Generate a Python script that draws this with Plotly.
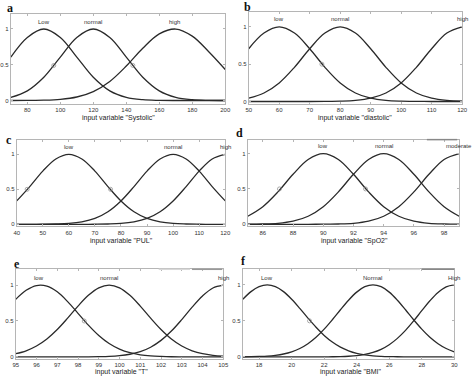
import plotly.graph_objects as go

W, H = 474, 379

# ---------------- data ----------------
a_x = [70, 80, 90, 100, 110, 120, 130, 140, 150, 160, 170, 180, 190, 200]
a_low = [0.607, 0.882, 1.0, 0.882, 0.607, 0.325, 0.135, 0.044, 0.011, 0.002, 0.0, 0.0, 0.0, 0.0]
a_normal = [0.044, 0.135, 0.325, 0.607, 0.882, 1.0, 0.882, 0.607, 0.325, 0.135, 0.044, 0.011, 0.002, 0.0]
a_high = [0.0, 0.001, 0.004, 0.016, 0.049, 0.125, 0.267, 0.482, 0.731, 0.932, 0.999, 0.900, 0.682, 0.434]
a_names = ["Low", "normal", "high"]
a_peaks = [90, 120, 169]
a_ticks = [80, 100, 120, 140, 160, 180, 200]
a_mark_x = [96, 144]
a_mark_y = [0.49, 0.49]

b_x = [50, 55, 60, 65, 70, 75, 80, 85, 90, 95, 100, 105, 110, 115, 120]
b_low = [0.707, 0.917, 1.0, 0.917, 0.707, 0.458, 0.249, 0.114, 0.044, 0.014, 0.004, 0.001, 0.0, 0.0, 0.0]
b_normal = [0.044, 0.114, 0.249, 0.458, 0.707, 0.917, 1.0, 0.917, 0.707, 0.458, 0.249, 0.114, 0.044, 0.014, 0.004]
b_high = [0.0, 0.0, 0.0, 0.0, 0.0, 0.001, 0.004, 0.014, 0.044, 0.114, 0.249, 0.458, 0.707, 0.917, 1.0]
b_names = ["low", "normal", "high"]
b_peaks = [60, 80, 120]
b_ticks = [50, 60, 70, 80, 90, 100, 110, 120]
b_mark_x = [74]
b_mark_y = [0.5]

c_x = [40, 45, 50, 55, 60, 65, 70, 75, 80, 85, 90, 95, 100, 105, 110, 115, 120]
c_low = [0.334, 0.539, 0.760, 0.934, 1.0, 0.934, 0.760, 0.539, 0.334, 0.180, 0.085, 0.035, 0.012, 0.004, 0.001, 0.0, 0.0]
c_normal = [0.0, 0.0, 0.001, 0.004, 0.012, 0.035, 0.085, 0.180, 0.334, 0.539, 0.760, 0.934, 1.0, 0.934, 0.760, 0.539, 0.334]
c_high = [0.0, 0.0, 0.0, 0.0, 0.0, 0.0, 0.001, 0.004, 0.012, 0.035, 0.085, 0.180, 0.334, 0.539, 0.760, 0.934, 1.0]
c_names = ["low", "normal", "high"]
c_peaks = [60, 100, 120]
c_ticks = [40, 50, 60, 70, 80, 90, 100, 110, 120]
c_mark_x = [44, 76]
c_mark_y = [0.5, 0.5]

d_x = [85, 86, 87, 88, 89, 90, 91, 92, 93, 94, 95, 96, 97, 98, 99]
d_low = [0.114, 0.249, 0.458, 0.707, 0.917, 1.0, 0.917, 0.707, 0.458, 0.249, 0.114, 0.044, 0.014, 0.004, 0.001]
d_normal = [0.001, 0.004, 0.014, 0.044, 0.114, 0.249, 0.458, 0.707, 0.917, 1.0, 0.917, 0.707, 0.458, 0.249, 0.114]
d_moderate = [0.0, 0.0, 0.0, 0.0, 0.0, 0.001, 0.004, 0.014, 0.044, 0.114, 0.249, 0.458, 0.707, 0.917, 1.0]
d_names = ["low", "normal", "moderate"]
d_peaks = [90, 94, 99]
d_ticks = [86, 88, 90, 92, 94, 96, 98]
d_mark_x = [87.1, 92.8]
d_mark_y = [0.5, 0.5]

e_x = [95, 95.5, 96, 96.5, 97, 97.5, 98, 98.5, 99, 99.5, 100, 100.5, 101, 101.5, 102, 102.5,
       103, 103.5, 104, 104.5, 105]
e_low = [0.801, 0.927, 0.994, 0.986, 0.906, 0.770, 0.607, 0.442, 0.298, 0.186, 0.108, 0.058,
         0.029, 0.013, 0.006, 0.002, 0.001, 0.0, 0.0, 0.0, 0.0]
e_normal = [0.044, 0.085, 0.151, 0.249, 0.381, 0.539, 0.707, 0.857, 0.962, 1.0, 0.962, 0.857,
            0.707, 0.539, 0.381, 0.249, 0.151, 0.085, 0.044, 0.021, 0.009]
e_high = [0.0, 0.0, 0.0, 0.0, 0.0, 0.0, 0.0, 0.001, 0.003, 0.007, 0.017, 0.037, 0.073, 0.135,
          0.230, 0.360, 0.520, 0.693, 0.849, 0.960, 1.0]
e_names = ["low", "normal", "high"]
e_peaks = [96.1, 99.5, 105]
e_ticks = [95, 96, 97, 98, 99, 100, 101, 102, 103, 104, 105]
e_mark_x = [98.3]
e_mark_y = [0.5]

f_x = [17, 17.5, 18, 18.5, 19, 19.5, 20, 20.5, 21, 21.5, 22, 22.5, 23, 23.5, 24, 24.5, 25,
       25.5, 26, 26.5, 27, 27.5, 28, 28.5, 29, 29.5, 30]
f_low = [0.801, 0.906, 0.976, 1.0, 0.976, 0.906, 0.801, 0.674, 0.539, 0.411, 0.298, 0.206, 0.135,
         0.085, 0.050, 0.029, 0.015, 0.008, 0.004, 0.002, 0.001, 0.0, 0.0, 0.0, 0.0, 0.0, 0.0]
f_normal = [0.001, 0.003, 0.006, 0.011, 0.022, 0.040, 0.070, 0.116, 0.183, 0.272, 0.385, 0.515,
            0.654, 0.787, 0.899, 0.974, 1.0, 0.974, 0.899, 0.787, 0.654, 0.515, 0.385, 0.272,
            0.183, 0.116, 0.070]
f_high = [0.0, 0.0, 0.0, 0.0, 0.0, 0.0, 0.0, 0.0, 0.0, 0.0, 0.001, 0.002, 0.004, 0.009, 0.018,
          0.035, 0.062, 0.105, 0.169, 0.257, 0.368, 0.499, 0.641, 0.779, 0.895, 0.973, 1.0]
f_names = ["Low", "Normal", "High"]
f_peaks = [18.5, 25, 30]
f_ticks = [18, 20, 22, 24, 26, 28, 30]
f_mark_x = [21.1]
f_mark_y = [0.5]

panel_letters = ["a", "b", "c", "d", "e", "f"]
axis_titles = ['input variable "Systolic"', 'input variable "diastolic"', 'input variable "PUL"',
               'input variable "SpO2"', 'input variable "T"', 'input variable "BMI"']

# ---------------- layout geometry (pixels) ----------------
panels = [
    dict(x=a_x, ys=[a_low, a_normal, a_high], names=a_names, peaks=a_peaks, ticks=a_ticks,
         mx=a_mark_x, my=a_mark_y, px=(7, 226), py=(14, 104), xr=[70, 200], yr=[-0.045, 1.21],
         letter=(6, 8), title=(117, 118)),
    dict(x=b_x, ys=[b_low, b_normal, b_high], names=b_names, peaks=b_peaks, ticks=b_ticks,
         mx=b_mark_x, my=b_mark_y, px=(250, 468), py=(12, 104), xr=[50, 120], yr=[-0.03, 1.2],
         letter=(249, 7), title=(359, 118)),
    dict(x=c_x, ys=[c_low, c_normal, c_high], names=c_names, peaks=c_peaks, ticks=c_ticks,
         mx=c_mark_x, my=c_mark_y, px=(13, 226), py=(140, 227), xr=[40, 120], yr=[-0.03, 1.21],
         letter=(5, 140), title=(120, 242)),
    dict(x=d_x, ys=[d_low, d_normal, d_moderate], names=d_names, peaks=d_peaks, ticks=d_ticks,
         mx=d_mark_x, my=d_mark_y, px=(249, 465), py=(140, 227), xr=[85, 99], yr=[-0.03, 1.197],
         letter=(241, 133), title=(358, 242)),
    dict(x=e_x, ys=[e_low, e_normal, e_high], names=e_names, peaks=e_peaks, ticks=e_ticks,
         mx=e_mark_x, my=e_mark_y, px=(12, 224), py=(270, 360), xr=[95, 105], yr=[-0.03, 1.22],
         letter=(13, 265), title=(120, 373)),
    dict(x=f_x, ys=[f_low, f_normal, f_high], names=f_names, peaks=f_peaks, ticks=f_ticks,
         mx=f_mark_x, my=f_mark_y, px=(244, 460), py=(270, 360), xr=[17, 30], yr=[-0.03, 1.216],
         letter=(245, 262), title=(354, 373)),
]

fig = go.Figure()
layout = dict(width=W, height=H, margin=dict(l=0, r=0, t=0, b=0),
              paper_bgcolor="white", plot_bgcolor="white", showlegend=False,
              font=dict(family="Liberation Sans, Arial, sans-serif", color="#333"))
annotations = []
shapes = []
FRAME = "#b5b5b5"
CURVE = "#2a2a2a"

for i, p in enumerate(panels):
    k = "" if i == 0 else str(i + 1)
    xa, ya = "x" + k, "y" + k
    for ys in p["ys"]:
        fig.add_trace(go.Scatter(x=p["x"], y=ys, mode="lines", xaxis=xa, yaxis=ya,
                                 line=dict(color=CURVE, width=1.3, shape="spline", smoothing=1.0),
                                 hoverinfo="skip"))
    fig.add_trace(go.Scatter(x=p["mx"], y=p["my"], mode="markers", xaxis=xa, yaxis=ya,
                             marker=dict(symbol="circle-open", size=4, color="#888",
                                         line=dict(width=0.7, color="#888")),
                             hoverinfo="skip"))
    x0, x1 = p["px"][0] / W, p["px"][1] / W
    y0, y1 = 1 - p["py"][1] / H, 1 - p["py"][0] / H
    layout["xaxis" + k] = dict(domain=[x0, x1], range=p["xr"], anchor=ya,
                               tickvals=p["ticks"], ticks="inside", ticklen=2, tickcolor=FRAME,
                               showline=True, linecolor=FRAME, linewidth=1, mirror="ticks",
                               showgrid=False, zeroline=False,
                               tickfont=dict(size=6, color="#333"))
    layout["yaxis" + k] = dict(domain=[y0, y1], range=p["yr"], anchor=xa,
                               tickvals=[0, 0.5, 1], ticktext=["0", "0.5", "1"],
                               ticks="inside", ticklen=2, tickcolor=FRAME,
                               showline=True, linecolor=FRAME, linewidth=1, mirror="ticks",
                               showgrid=False, zeroline=False,
                               tickfont=dict(size=6, color="#333"))
    for name, pk in zip(p["names"], p["peaks"]):
        annotations.append(dict(x=pk, y=1.1, xref=xa, yref=ya, text=name, showarrow=False,
                                font=dict(size=6, color="#333"), xanchor="center",
                                yanchor="middle"))
    lx, ly = p["letter"]
    annotations.append(dict(x=lx / W, y=1 - ly / H, xref="paper", yref="paper",
                            text="<b>" + panel_letters[i] + "</b>", showarrow=False,
                            font=dict(size=12, family="Liberation Serif, Times New Roman, serif",
                                      color="#111"), xanchor="center", yanchor="middle"))
    tx, ty = p["title"]
    annotations.append(dict(x=tx / W, y=1 - ty / H, xref="paper", yref="paper",
                            text=axis_titles[i], showarrow=False,
                            font=dict(size=7, color="#222"), xanchor="center",
                            yanchor="middle"))

# grey toolbar remnants along the top frame of panels d, e, f
for (xa0, xa1, yy, col) in [(432, 463, 140, "#888"), (158, 190, 270, "#d8d8d8"),
                            (192, 223, 270, "#999"), (394, 425, 270, "#d8d8d8"),
                            (427, 460, 270, "#888")]:
    shapes.append(dict(type="line", xref="paper", yref="paper", x0=xa0 / W, x1=xa1 / W,
                       y0=1 - yy / H, y1=1 - yy / H, line=dict(color=col, width=1.5)))

layout["annotations"] = annotations
layout["shapes"] = shapes
fig.update_layout(**layout)
fig.write_html("out.html", config={"displayModeBar": False},
               post_script="document.body.style.margin='0';document.body.style.overflow='hidden';")
